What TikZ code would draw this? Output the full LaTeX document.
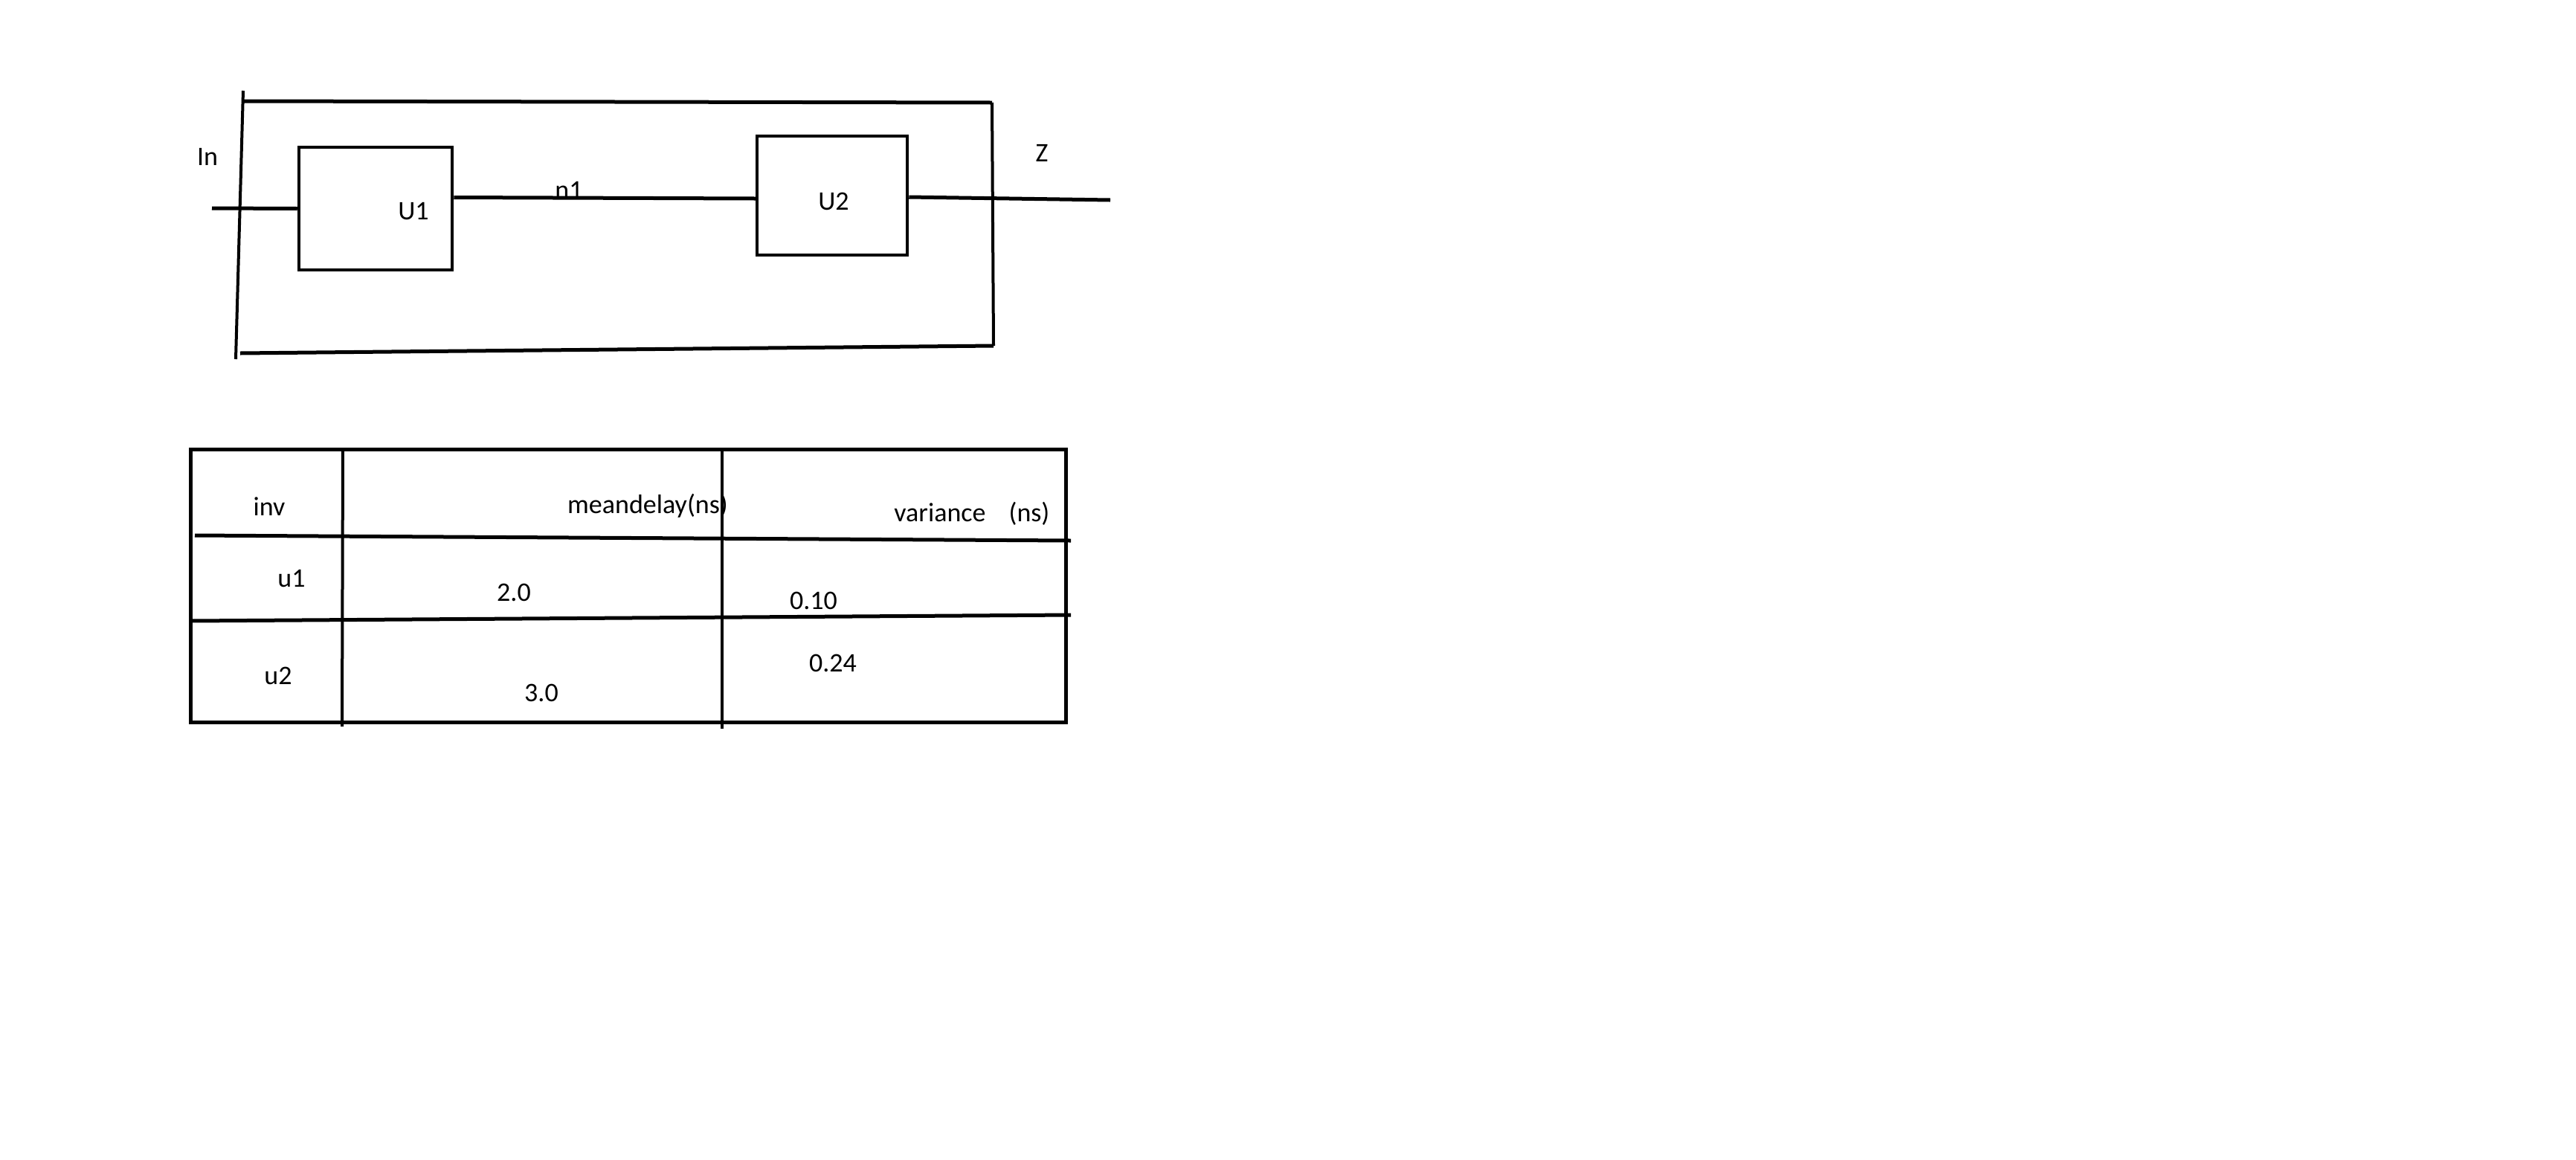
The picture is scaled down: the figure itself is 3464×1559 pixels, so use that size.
\documentclass[tikz,border=0pt]{standalone}
\usepackage{fontspec}
\setmainfont{Carlito}
\usetikzlibrary{calc}
\begin{document}
\begin{tikzpicture}[x=1pt,y=-1pt,
  thick line/.style={line width=5pt, line cap=butt},
  thin line/.style={line width=4pt},
  blockbox/.style={draw, line width=4.5pt, inner sep=0pt, minimum width=#1},
  lbl/.style={inner sep=0pt, font=\fontsize{36}{43}\selectfont, text=black}
]
\useasboundingbox[fill=white] (0,0) rectangle (3464,1559);

% ---------- circuit ----------
\node[blockbox=206pt, minimum height=165pt] (U1) at (505,280.5) {};
\node[blockbox=202pt, minimum height=160pt] (U2) at (1119,263) {};

\coordinate (in) at (285,280);
\coordinate (zout) at (1493,269);
\coordinate (fTL) at (327,122);
\coordinate (fBL) at (317,483);
\coordinate (tA) at (325,136);
\coordinate (tB) at (1334,138);
\coordinate (rB) at (1336,465);
\coordinate (bA) at (323,475);

\draw[thin line] (fTL) -- (fBL);
\draw[thick line] (tA) -- (tB);
\draw[thin line] (tB) -- (rB);
\draw[thick line] (bA) -- (rB);

\draw[thick line] (in) -- (U1.west);
\draw[thick line] ([yshift=15pt]U1.east) -- ([yshift=-4pt]U2.west);
\draw[thick line] ([yshift=-2pt]U2.east) -- (zout);

\node[lbl] (tIn) at (279,211) {In};
\node[lbl] (tU1) at (556,284) {U1};
\node[lbl] (tn1) at (765,256) {n1};
\node[lbl] (tU2) at (1121,271) {U2};
\node[lbl] (tZ) at (1401,206) {Z};

% ---------- table ----------
\coordinate (oTL) at (256,604);
\coordinate (oTR) at (1433,604);
\coordinate (oBR) at (1433,971);
\coordinate (oBL) at (256,971);
\draw[thick line] (oTL) -- (oTR) -- (oBR) -- (oBL) -- cycle;

\coordinate (c1t) at (461,604);
\coordinate (c1b) at (460,977);
\coordinate (c2t) at (971,604);
\coordinate (c2b) at (971,980);
\draw[thin line] (c1t) -- (c1b);
\draw[thin line] (c2t) -- (c2b);

\coordinate (h1a) at (262,720);
\coordinate (h1b) at (1440,727);
\coordinate (h2a) at (256,835);
\coordinate (h2b) at (1440,827);
\draw[thick line] (h1a) -- (h1b);
\draw[thick line] (h2a) -- (h2b);

\node[lbl] (hinv) at (362,681) {inv};
\node[lbl] (hmean) at (871,680) {meandelay(ns)};
\node[lbl] (hvar) at (1264,689) {variance};
\node[lbl] (hns) at (1384,691) {(ns)};
\node[lbl] (ru1) at (392,778) {u1};
\node[lbl] (m1) at (691,797) {2.0};
\node[lbl] (v1) at (1094,808) {0.10};
\node[lbl] (ru2) at (374,909) {u2};
\node[lbl] (v2) at (1120,892) {0.24};
\node[lbl] (m2) at (728,932) {3.0};
\end{tikzpicture}
\end{document}
